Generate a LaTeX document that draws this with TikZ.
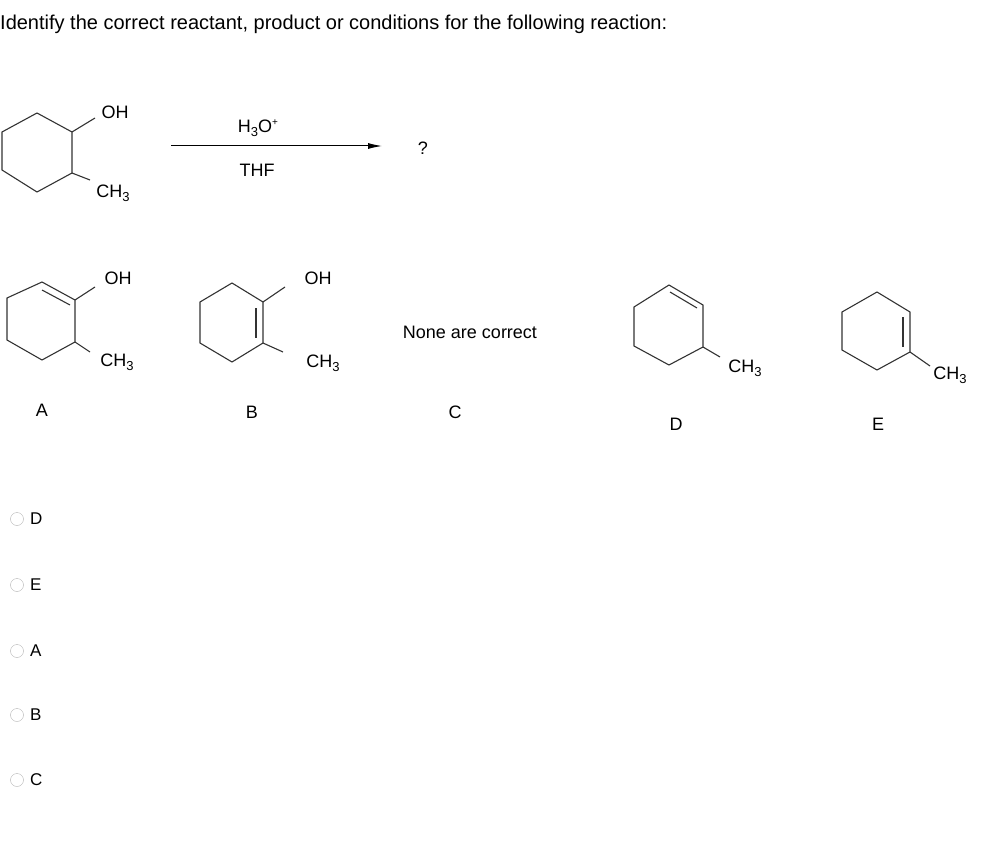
\documentclass[tikz,border=0pt]{standalone}
\usepackage{fontspec}
\setmainfont{Liberation Sans}
\usetikzlibrary{arrows.meta}
\newcommand{\chsub}[1]{\raisebox{-0.4ex}{\fontsize{13}{14}\selectfont #1}}
\newcommand{\chsup}[1]{\raisebox{0.8ex}{\fontsize{10}{11}\selectfont #1}}
\begin{document}
\begin{tikzpicture}[x=1pt,y=-1pt,
  bond/.style={line width=1.1pt,color=black!80},
  lbl/.style={inner sep=0pt,font=\fontsize{18}{20}\selectfont},
  opt/.style={inner sep=0pt,font=\fontsize{17}{19}\selectfont,anchor=west},
  radio/.style={draw=black!30,circle,minimum size=13pt,inner sep=0pt}]
\useasboundingbox (0,0) rectangle (994,864);
\node[anchor=west,inner sep=0pt,font=\fontsize{20}{22}\selectfont] (title) at (0,24) {Identify the correct reactant, product or conditions for the following reaction:};
% reactant
\draw[bond] (2,132)--(37,113)--(72,132)--(72,173)--(37,192)--(2,170)--cycle;
\draw[bond] (72,132)--(95,118); \draw[bond] (72,173)--(90,180);
\node[lbl] (r-oh) at (115,112) {OH};
\node[lbl] (r-ch) at (113,193) {CH\chsub{3}};
\coordinate (a1) at (171,146); \coordinate (a2) at (382,146);
\draw[line width=1pt,-{Latex[length=14pt,width=6pt]}] (a1)--(a2);
\node[lbl] (h3o) at (258,128) {H\chsub{3}O\chsup{+}};
\node[lbl] (thf) at (257,170) {THF};
\node[lbl] (q) at (423,148) {?};
% A
\draw[bond] (7,298)--(42,282)--(75,300)--(75,342)--(42,360)--(7,340)--cycle;
\draw[bond] (42,290)--(70,305);
\draw[bond] (75,300)--(95,287); \draw[bond] (75,342)--(90,352);
\node[lbl] (a-oh) at (118,278) {OH};
\node[lbl] (a-ch) at (117,362) {CH\chsub{3}};
\node[lbl] (la) at (42,410) {A};
% B
\draw[bond] (200,302)--(232,283)--(263,302)--(263,343)--(232,362)--(200,343)--cycle;
\draw[bond] (256,308)--(256,338);
\draw[bond] (263,302)--(285,287); \draw[bond] (263,343)--(283,352);
\node[lbl] (b-oh) at (318,278) {OH};
\node[lbl] (b-ch) at (323,363) {CH\chsub{3}};
\node[lbl] (lb) at (252,412) {B};
% C
\node[lbl] (c) at (470,332) {None are correct};
\node[lbl] (lc) at (455,412) {C};
% D
\draw[bond] (634,307)--(669,285)--(703,305)--(703,347)--(669,365)--(634,346)--cycle;
\draw[bond] (670,292)--(697,308);
\draw[bond] (703,347)--(720,357);
\node[lbl] (d-ch) at (745,368) {CH\chsub{3}};
\node[lbl] (ld) at (676,424) {D};
% E
\draw[bond] (842,312)--(877,292)--(910,312)--(910,352)--(877,370)--(842,350)--cycle;
\draw[bond] (903,317)--(903,347);
\draw[bond] (910,352)--(930,366);
\node[lbl] (e-ch) at (950,375) {CH\chsub{3}};
\node[lbl] (le) at (878,424) {E};
% options
\foreach \y/\t [count=\i] in {519/D,585/E,651/A,715/B,780/C}{
  \node[radio] (rb\i) at (17,\y) {};
  \node[opt] (ol\i) at (30,\y) {\t};
}
\end{tikzpicture}
\end{document}
